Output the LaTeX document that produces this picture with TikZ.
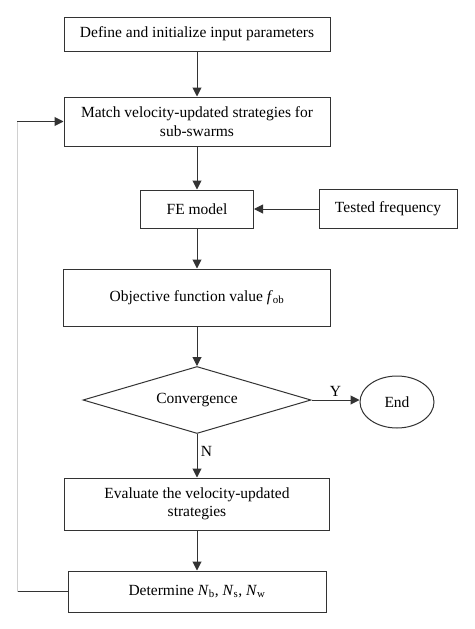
\documentclass[tikz,border=0pt]{standalone}
\usepackage{fontspec}
\setmainfont{Liberation Serif}
\usepackage{tikz}
\usetikzlibrary{shapes.geometric,arrows.meta}

\definecolor{linegray}{HTML}{333333}
\definecolor{backgray}{HTML}{D0D0D0}

\tikzset{
 procbox/.style={draw=linegray,line width=1pt,fill=white,align=center,inner sep=2pt,font=\fontsize{15.5}{18.5}\selectfont},
 flow/.style={draw=linegray,line width=1pt,-{Triangle[length=9pt,width=9pt]}},
 flowlabel/.style={font=\fontsize{15.5}{18}\selectfont},
}

\begin{document}
\begin{tikzpicture}[x=1pt,y=-1pt]
 \useasboundingbox (0,0) rectangle (474,629);
 \node[procbox,minimum width=266pt,minimum height=34pt] (define) at (197,34) {Define and initialize input parameters};
 \node[procbox,minimum width=266pt,minimum height=49pt] (match) at (197,121.5) {Match velocity-updated strategies for\\sub-swarms};
 \node[procbox,minimum width=113pt,minimum height=38pt] (fe) at (197,209) {FE model};
 \node[procbox,minimum width=138pt,minimum height=39pt] (tested) at (388,209) {Tested frequency};
 \node[procbox,minimum width=267pt,minimum height=57pt] (objective) at (197,297.5) {Objective function value \textit{f}\textsubscript{ob}};
 \node[procbox,diamond,aspect=3.4,inner sep=0pt,minimum width=228pt,minimum height=67pt] (conv) at (197,400) {Convergence};
 \node[procbox,ellipse,minimum width=74pt,minimum height=52pt,inner sep=0pt] (end) at (397,402) {End};
 \node[procbox,minimum width=265pt,minimum height=52pt] (evaluate) at (197,504) {Evaluate the velocity-updated\\strategies};
 \node[procbox,minimum width=258pt,minimum height=41pt] (determine) at (197,591.5) {Determine \textit{N}\textsubscript{b}, \textit{N}\textsubscript{s}, \textit{N}\textsubscript{w}};

 \coordinate (loopbot) at (17,591.5);
 \coordinate (looptop) at (17,121.5);

 \draw[flow] (define) -- (match);
 \draw[flow] (match) -- (fe);
 \draw[flow] (tested) -- (fe);
 \draw[flow] (fe) -- (objective);
 \draw[flow] (objective) -- (conv);
 \draw[flow] (conv.east) -- node[above,flowlabel] {Y} (end.west |- conv.east);
 \draw[flow] (conv) -- node[right,pos=0.4,flowlabel] {N} (evaluate);
 \draw[flow] (evaluate) -- (determine);

 % feedback loop
 \draw[draw=linegray,line width=1pt] (determine.west) -- (loopbot);
 \draw[draw=backgray,line width=1pt] (loopbot) -- (looptop);
 \draw[flow] (looptop) -- (match.west);
\end{tikzpicture}
\end{document}
